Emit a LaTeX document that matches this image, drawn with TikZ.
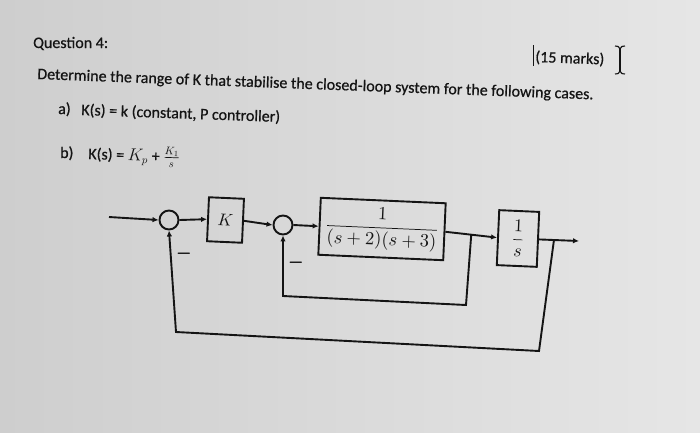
\documentclass[tikz,border=0pt]{standalone}
\usepackage{amsmath}
\usepackage{graphicx}
\usepackage{fontspec}
\setmainfont{Carlito}
\newfontfamily\bodyfont{Carlito}[FakeBold=0.7]
\usetikzlibrary{arrows.meta,calc}
\definecolor{ink}{RGB}{20,20,20}
\definecolor{bgL}{RGB}{206,206,206}
\definecolor{bgR}{RGB}{230,230,230}
\begin{document}
\begin{tikzpicture}[x=1pt,y=-1pt,
  blk/.style={draw=ink, line width=1.9pt, rotate=-2.5, inner sep=0pt, text=ink},
  sumc/.style={circle, draw=ink, line width=1.9pt, minimum size=19pt, inner sep=0pt},
  conn/.style={draw=ink, line width=1.9pt, line join=miter},
  arr/.style={conn, -{Latex[length=6pt,width=5.5pt]}},
  txt/.style={text=ink, anchor=base west, inner sep=0pt, font=\bodyfont\fontsize{16}{19}\selectfont},
  minus/.style={text=ink, inner sep=0pt}]
\useasboundingbox (0,0) rectangle (700,432);
\shade[left color=bgL, right color=bgR] (0,0) rectangle (700,432);

% texts
\node[txt] (q) at (33,48) {Question 4:};
\node[txt, rotate=-2.1] (det) at (37,79) {Determine the range of K that stabilise the closed-loop system for the following cases.};
\node[txt, rotate=-2] (marks) at (535,62) {(15 marks)};
\node[txt] (la) at (58,114) {a)};
\node[txt, rotate=-2] (ta) at (81,115) {K(s) = k (constant, P controller)};
\node[txt] (lb) at (60,158) {b)};
\node[txt, rotate=-2] (tb) at (88,159) {K(s) = $K_{p}$ + $\frac{K_1}{s}$};

% caret and I-beam cursor
\draw[ink, line width=1pt] (533,45) -- (533,66);
\draw[ink, line width=1.2pt] (620,48) -- (620,72);
\draw[ink, line width=1.1pt] (615,46) .. controls (618,46) .. (620,49) .. controls (622,46) .. (625,46);
\draw[ink, line width=1.1pt] (615,74) .. controls (618,74) .. (620,71) .. controls (622,74) .. (625,74);

% diagram nodes
\node[sumc] (s1) at (169,220) {};
\node[blk, minimum width=35pt, minimum height=44pt] (K) at (225.5,220) {\scalebox{1.7}{$K$}};
\node[sumc] (s2) at (283,225) {};
\node[blk, minimum width=125pt, minimum height=57pt] (G) at (382,229) {\scalebox{1.85}{$\dfrac{1}{(s+2)(s+3)}$}};
\node[blk, minimum width=40pt, minimum height=55pt] (I) at (518,238.5) {\scalebox{1.8}{$\dfrac{1}{s}$}};

\coordinate (in) at (109,217);
\coordinate (out) at (579,241);
\coordinate (b1) at ($(G.east)!0.5!(I.west)$);
\coordinate (b2) at ($(I.east)!0.375!(out)$);
\coordinate (c1) at (466,305);
\coordinate (c2) at (283,296);
\coordinate (c3) at (539,351);
\coordinate (c4) at (176,332);

% connectors
\draw[arr] (in) -- (s1.west);
\draw[arr] (s1.east) -- (K.west);
\draw[arr] (K.east) -- (s2.west);
\draw[arr] (s2.east) -- (G.west);
\draw[arr] (G.east) -- (I.west);
\draw[arr] (I.east) -- (out);
\draw[arr] (b1) -- (c1) -- (c2) -- (s2.south);
\draw[arr] (b2) -- (c3) -- (c4) -- (s1.south);

\node[minus] (m1) at (184,254) {\scalebox{2}[3.5]{$-$}};
\node[minus] (m2) at (296,263) {\scalebox{2}[3.5]{$-$}};
\end{tikzpicture}
\end{document}
